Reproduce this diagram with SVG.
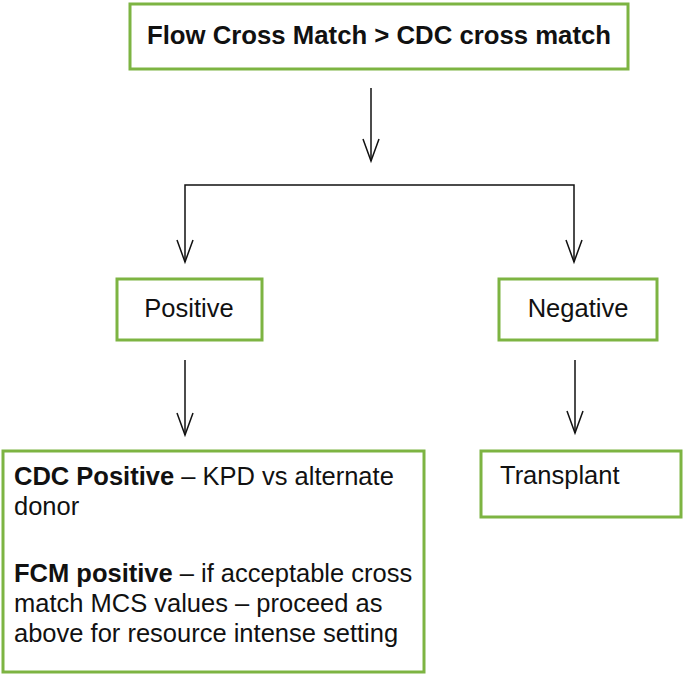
<svg xmlns="http://www.w3.org/2000/svg" width="685" height="674" viewBox="0 0 685 674">
<style>
.box{fill:#fff;stroke:#7db442;stroke-width:3}
.t{font-family:"Liberation Sans",Arial,sans-serif;font-size:25.5px;fill:#111}
.b{font-weight:bold}
.c{fill:none;stroke:#111;stroke-width:1.5}
</style>
<g id="connectors">
<line class="c" x1="371" y1="88" x2="371" y2="161"/>
<polyline class="c" points="363,139 371,161 379,139"/>
<polyline class="c" points="185,262 185,185 574,185 574,262"/>
<polyline class="c" points="177,240 185,262 193,240"/>
<polyline class="c" points="566,240 574,262 582,240"/>
<line class="c" x1="185" y1="360" x2="185" y2="435"/>
<polyline class="c" points="177,413 185,435 193,413"/>
<line class="c" x1="575" y1="360" x2="575" y2="433"/>
<polyline class="c" points="567,411 575,433 583,411"/>
</g>
<g id="top"><rect class="box" x="130" y="4" width="498" height="65"/>
<text class="t b" x="379" y="44" text-anchor="middle" textLength="464" lengthAdjust="spacingAndGlyphs">Flow Cross Match &gt; CDC cross match</text></g>
<g id="positive"><rect class="box" x="117" y="279" width="145" height="61"/>
<text class="t" x="189" y="317" text-anchor="middle">Positive</text></g>
<g id="negative"><rect class="box" x="499" y="279" width="158" height="61"/>
<text class="t" x="578" y="317" text-anchor="middle">Negative</text></g>
<g id="detail"><rect class="box" x="3" y="451" width="421" height="221"/>
<text class="t" x="14" y="485"><tspan class="b">CDC Positive</tspan> – KPD vs alternate</text>
<text class="t" x="14" y="515">donor</text>
<text class="t" x="14" y="582"><tspan class="b">FCM positive</tspan> – if acceptable cross</text>
<text class="t" x="14" y="612">match MCS values – proceed as</text>
<text class="t" x="14" y="642">above for resource intense setting</text></g>
<g id="transplant"><rect class="box" x="481" y="451" width="200" height="66"/>
<text class="t" x="500" y="484">Transplant</text></g>
</svg>
